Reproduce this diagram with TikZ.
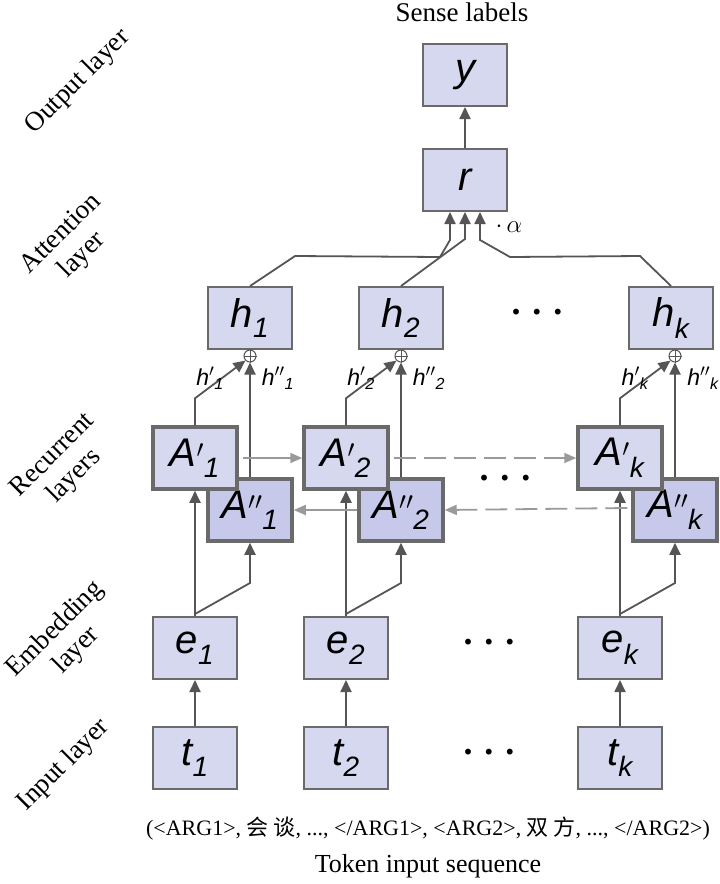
\documentclass[tikz,border=0pt]{standalone}
\usepackage{fontspec}
\setmainfont{Liberation Serif}
\newfontfamily\nodefont{Liberation Sans}
\newfontfamily\cjk{Noto Sans CJK SC}
\usetikzlibrary{arrows.meta}
\definecolor{boxfill}{HTML}{D6D8EF}
\definecolor{boxfillb}{HTML}{C6C9E9}
\definecolor{boxline}{HTML}{6A6A6A}
\definecolor{arrline}{HTML}{555555}
\definecolor{recline}{HTML}{9A9A9A}
\begin{document}
\begin{tikzpicture}[x=1pt,y=-1pt]
        \tikzstyle{box}=[draw=boxline, line width=2pt, fill=boxfill, minimum width=84pt, minimum height=62pt, inner sep=0pt, font=\nodefont\itshape\fontsize{40}{40}\selectfont];
        \tikzstyle{rbox}=[box, line width=3.5pt];
        \tikzstyle{rboxb}=[rbox, fill=boxfillb];
        \tikzstyle{up}=[draw=arrline, line width=1.8pt, -{Triangle[length=12pt,width=11pt]}];
        \tikzstyle{rec}=[draw=recline, line width=1.8pt, -{Triangle[length=12pt,width=10pt]}];
        \tikzstyle{lbl}=[font=\fontsize{27}{30}\selectfont, align=center, rotate=45];
        \tikzstyle{small}=[font=\nodefont\itshape\fontsize{23}{23}\selectfont];
        \tikzstyle{dots}=[font=\fontsize{36}{36}\selectfont\bfseries];
        \useasboundingbox (0,0) rectangle (720,884);
        % layer labels
        \node[lbl] (lo) at (78,82) {Output layer};
        \node[lbl] (la) at (72,245) {Attention\\layer};
        \node[lbl] (lr) at (64,466) {Recurrent\\layers};
        \node[lbl] (le) at (66,640) {Embedding\\layer};
        \node[lbl] (li) at (64,765) {Input layer};
        % output and attention
        \node[font=\fontsize{27}{27}\selectfont] (sl) at (462,12) {Sense labels};
        \node[box] (y) at (465,75) {y};
        \node[box] (r) at (465,180) {r};
        \draw[up] (r.north) -- (y.south);
        % hidden states
        \node[box] (h1) at (250,318) {h\textsubscript{1}};
        \node[box] (h2) at (401,318) {h\textsubscript{2}};
        \node[box] (hk) at (671,318) {h\textsubscript{k}};
        \node[dots] (hd) at (537,312) {. . .};
        \draw[up] (h1.north) -- ++(45,-30) -- (440,257) -- ++(10,-17) -- (450,212);
        \draw[up] (h2.north) -- ++(64,-47) -- (465,212);
        \draw[up] (hk.north) -- ++(-31,-30) -- (510,257) -- ++(-30,-17) -- (480,212);
        \node[font=\fontsize{24}{24}\selectfont] (al) at (509,227) {$\cdot\,\alpha$};
        % recurrent layers
        \foreach \n/\x/\s in {1/195/1, 2/346/2, k/620/k}{
            \pgfmathsetmacro{\xx}{\x+55}
            \node[rboxb] (App\n) at (\xx,510) {A$''$\textsubscript{\s}};
            \node[rbox] (Ap\n) at (\x,458) {A$'$\textsubscript{\s}};
            \node[circle, draw=arrline, line width=1pt, inner sep=0pt, minimum size=12pt] (op\n) at (\xx,356) {};
            \draw[arrline, line width=1pt] (op\n.north) -- (op\n.south) (op\n.west) -- (op\n.east);
            \draw[up] (Ap\n.north) -- ++(0,-27) -- (op\n.south west);
            \draw[up] (App\n.north) -- (op\n.south);
            \node[small] (hp\n) at (\x+15,378) {h$'$\textsubscript{\s}};
            \node[small] (hpp\n) at (\xx+28,378) {h$''$\textsubscript{\s}};
            \node[box] (e\n) at (\x,648) {e\textsubscript{\s}};
            \node[box] (t\n) at (\x,758) {t\textsubscript{\s}};
            \draw[up] (t\n.north) -- (e\n.south);
            \draw[up] (e\n.north) -- (Ap\n.south);
            \draw[up] (e\n.north) -- ++(0,-2) -- (\xx,583) -- (App\n.south);
        }
        \node[dots] (rd) at (505,478) {. . .};
        \node[dots] (ed) at (489,642) {. . .};
        \node[dots] (td) at (489,752) {. . .};
        \draw[rec] (Ap1.east) ++(4,0) -- (Ap2.west);
        \draw[rec, dash pattern=on 22pt off 8pt] (Ap2.east) ++(4,0) -- (Apk.west);
        \draw[rec, dash pattern=on 22pt off 8pt] (Appk.west) ++(-4,-2) -- (App2.east);
        \draw[rec] (App2.west) -- (App1.east);
        % token sequence
        \node[font=\fontsize{22}{24}\selectfont] (seq) at (428,829) {(<ARG1>, {\cjk 会 谈}, ..., </ARG1>, <ARG2>, {\cjk 双 方}, ..., </ARG2>)};
        \node[font=\fontsize{26}{26}\selectfont] (tis) at (428,866) {Token input sequence};
    \end{tikzpicture}
\end{document}
